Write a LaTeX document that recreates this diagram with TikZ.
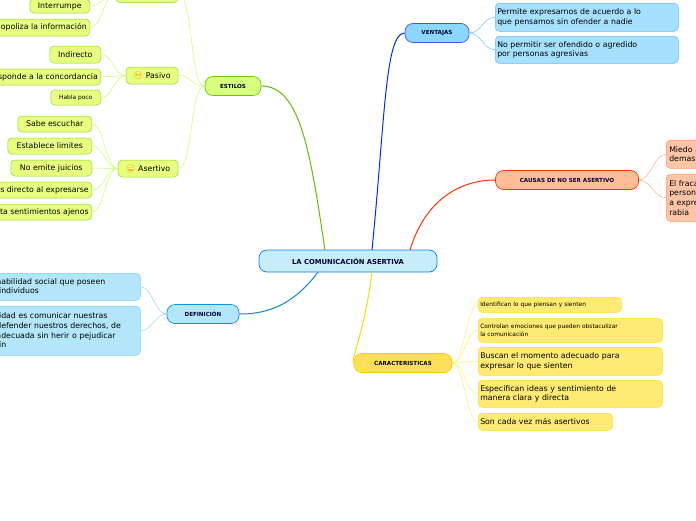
\documentclass[tikz,border=0pt]{standalone}
\usepackage{fontspec}
\setmainfont{DejaVu Sans}
\newfontfamily\emo{Noto Emoji}
\begin{document}
\begin{tikzpicture}[x=1pt,y=-1pt,
 base/.style={draw,rounded corners=4pt,inner sep=0pt,font=\fontsize{7.8}{9.6}\selectfont,line width=0.5pt},
 mainb/.style={base,rounded corners=8pt,font=\bfseries\fontsize{5.6}{7}\selectfont,text=black!80!blue,line width=0.7pt},
 gr/.style={base,fill=green!18!yellow!50!white,draw=green!50!yellow!70!gray},
 yl/.style={base,fill=orange!30!yellow!55,draw=orange!30!yellow!90},
 bl/.style={base,fill=blue!35!cyan!35,draw=blue!45!cyan!60},
 cy/.style={base,fill=cyan!30,draw=cyan!55},
 sa/.style={base,fill=red!30!orange!35,draw=red!40!orange!60},
 sub/.style={line width=0.5pt}]
\useasboundingbox (0,0) rectangle (696,520);
\clip (0,0) rectangle (696,520);
% centre
\node[mainb,fill=cyan!22,draw=blue!50!cyan,minimum width=178,minimum height=22,font=\bfseries\fontsize{6.8}{8}\selectfont] (c) at (348,261) {LA COMUNICACIÓN ASERTIVA};
% main branches
\node[mainb,fill=blue!35!cyan!45,draw=blue!70,minimum width=64,minimum height=19] (v) at (437,33) {VENTAJAS};
\node[mainb,fill=red!30!orange!40,draw=red!60!orange,minimum width=143,minimum height=19] (ca) at (567,180) {CAUSAS DE NO SER ASERTIVO};
\node[mainb,fill=orange!40!yellow!65,draw=orange!40!yellow,minimum width=98,minimum height=19] (ch) at (403,363) {CARACTERISTICAS};
\node[mainb,fill=cyan!30,draw=cyan!80!blue,minimum width=72,minimum height=19] (d) at (203,314) {DEFINICIÓN};
\node[mainb,fill=green!30!yellow!50,draw=green!50!yellow!80!black,minimum width=56,minimum height=19] (e) at (233,86) {ESTILOS};
\draw[line width=1pt,blue!80!cyan!90!black] (372,250) .. controls (385,120) and (385,33) .. (v.west);
\draw[line width=1pt,red!60!orange] (410,250) .. controls (425,200) and (460,180) .. (ca.west);
\draw[line width=1pt,orange!30!yellow] (372,272) .. controls (365,330) and (350,362) .. (ch.west);
\draw[line width=1pt,cyan!70!blue] (318,272) .. controls (290,310) and (260,314) .. (d.east);
\draw[line width=1pt,green!50!yellow!75!black] (325,250) .. controls (310,150) and (300,86) .. (e.east);
% ventajas
\node[bl,anchor=north west,minimum width=183,minimum height=28,align=left,text width=179,inner xsep=2pt] (v1) at (495,3) {Permite expresarnos de acuerdo a lo\\que pensamos sin ofender a nadie};
\node[bl,anchor=north west,minimum width=183,minimum height=27,align=left,text width=179,inner xsep=2pt] (v2) at (495,36) {No permitir ser ofendido o agredido\\por personas agresivas};
\foreach \n in {v1,v2} \draw[sub,blue!40!cyan!60] (v.east) .. controls +(12,0) and +(-12,0) .. (\n.west);
% causas
\node[sa,anchor=north west,minimum width=80,minimum height=28,align=left,text width=76,inner xsep=3pt] (k1) at (666,140) {Miedo a ser\\demasiado};
\node[sa,anchor=north west,minimum width=80,minimum height=47,align=left,text width=76,inner xsep=3pt] (k2) at (666,174) {El fracaso\\personal\\a expresar\\rabia};
\foreach \n in {k1,k2} \draw[sub,red!30!orange!50] (ca.east) .. controls +(12,0) and +(-12,0) .. (\n.west);
% caracteristicas
\node[yl,anchor=north west,minimum width=143,minimum height=15,align=left,text width=139,inner xsep=2pt,font=\fontsize{5.9}{7}\selectfont] (h1) at (478,297) {Identifican lo que piensan y sienten};
\node[yl,anchor=north west,minimum width=184,minimum height=24,align=left,text width=180,inner xsep=2pt,font=\fontsize{5.9}{7.5}\selectfont] (h2) at (478,318) {Controlan emociones que pueden obstaculizar\\la comunicación};
\node[yl,anchor=north west,minimum width=184,minimum height=28,align=left,text width=180,inner xsep=2pt] (h3) at (478,347) {Buscan el momento adecuado para\\expresar lo que sienten};
\node[yl,anchor=north west,minimum width=184,minimum height=27,align=left,text width=180,inner xsep=2pt] (h4) at (478,380) {Especifican ideas y sentimiento de\\manera clara y directa};
\node[yl,anchor=north west,minimum width=134,minimum height=17,align=left,text width=130,inner xsep=2pt] (h5) at (478,413) {Son cada vez más asertivos};
\foreach \n in {h1,h2,h3,h4,h5} \draw[sub,orange!20!yellow!60] (ch.east) .. controls +(12,0) and +(-12,0) .. (\n.west);
% definicion
\node[cy,anchor=north west,minimum width=150,minimum height=27,align=left,text width=146,inner xsep=2pt] (d1) at (-10,273) {\hspace*{9pt}\llap{La asertividad es una h}abilidad social que poseen\\\hspace*{9pt}\llap{algunos i}ndividuos};
\node[cy,anchor=north west,minimum width=150,minimum height=49,align=left,text width=146,inner xsep=2pt] (d2) at (-10,306) {\hspace*{9pt}\llap{La asertivi}dad es comunicar nuestras\\\hspace*{9pt}\llap{ideas y d}efender nuestros derechos, de\\\hspace*{9pt}\llap{manera a}decuada sin herir o pejudicar\\\hspace*{9pt}\llap{a nadie, ni a nadie si}n};
\foreach \n in {d1,d2} \draw[sub,cyan!45] (d.west) .. controls +(-12,0) and +(12,0) .. (\n.east);
% estilos
\node[gr,minimum width=62,minimum height=17] (ag) at (147,-6) {Agresivo};
\node[gr,minimum width=52,minimum height=17] (pa) at (152,75.5) {{\emo\textcolor{orange}{🙄}} Pasivo};
\node[gr,minimum width=60,minimum height=17] (as) at (148,168.5) {{\emo\textcolor{orange}{😀}} Asertivo};
\foreach \n in {ag,pa,as} \draw[sub,green!40!yellow!60] (e.west) .. controls +(-15,0) and +(15,0) .. (\n.east);
\node[gr,anchor=east,minimum width=60,minimum height=14] (a1) at (90,6) {Interrumpe};
\node[gr,anchor=east,minimum height=17,inner xsep=3pt] (a2) at (90,27.5) {Monopoliza la información};
\foreach \n in {a1,a2} \draw[sub,green!40!yellow!60] (ag.west) .. controls +(-12,0) and +(12,0) .. (\n.east);
\node[gr,anchor=east,minimum width=51,minimum height=17] (p1) at (101,54.5) {Indirecto};
\node[gr,anchor=east,minimum height=16,inner xsep=3pt] (p2) at (101,77) {Responde a la concordancia};
\node[gr,anchor=east,minimum width=50,minimum height=15,font=\fontsize{5.9}{7}\selectfont] (p3) at (101,97.5) {Habla poco};
\foreach \n in {p1,p2,p3} \draw[sub,green!40!yellow!60] (pa.west) .. controls +(-12,0) and +(12,0) .. (\n.east);
\node[gr,anchor=east,minimum width=74,minimum height=16] (s1) at (92,124) {Sabe escuchar};
\node[gr,anchor=east,minimum width=84,minimum height=16] (s2) at (92,146) {Establece limites};
\node[gr,anchor=east,minimum width=81,minimum height=16] (s3) at (92,168) {No emite juicios};
\node[gr,anchor=east,minimum height=16,inner xsep=3pt] (s4) at (92,190) {Es directo al expresarse};
\node[gr,anchor=east,minimum height=16,inner xsep=3pt] (s5) at (92,212) {Respeta sentimientos ajenos};
\foreach \n in {s1,s2,s3,s4,s5} \draw[sub,green!40!yellow!60] (as.west) .. controls +(-12,0) and +(12,0) .. (\n.east);
\end{tikzpicture}
\end{document}
